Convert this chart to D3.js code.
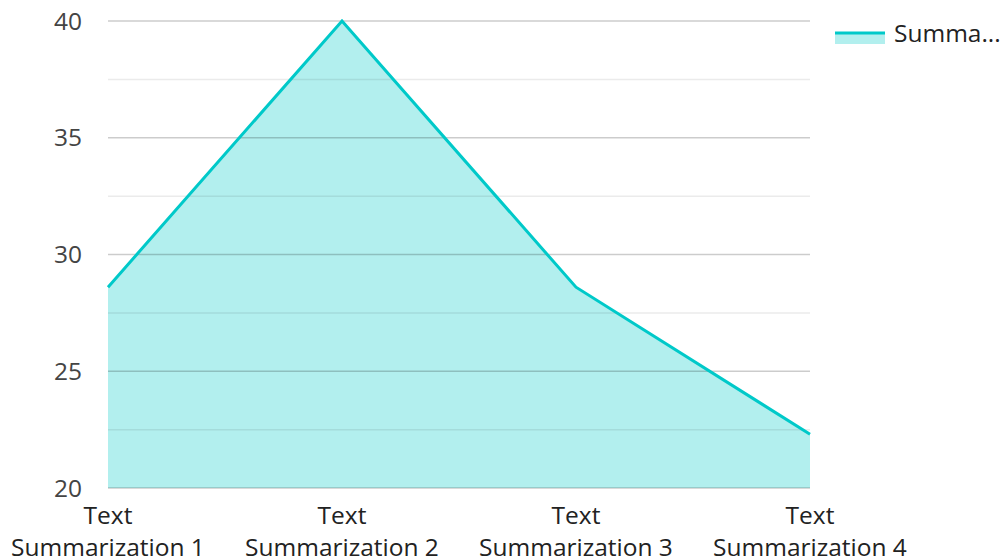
<!DOCTYPE html>
<html>
<head>
<meta charset="utf-8">
<script src="https://cdn.jsdelivr.net/npm/d3@7"></script>
<style>
  html, body { margin: 0; padding: 0; background: #fff; }
  svg text { font-family: "Open Sans", "Noto Sans", sans-serif; }
</style>
</head>
<body>
<svg id="chart" width="1005" height="560"></svg>
<script>
// Chart data
const categories = ["Text Summarization 1", "Text Summarization 2", "Text Summarization 3", "Text Summarization 4"];
const values = [28.6, 40, 28.6, 22.3];
const seriesName = "Summarization";
const yTicks = [20, 25, 30, 35, 40];
const yMinorTicks = [22.5, 27.5, 32.5, 37.5];

const svg = d3.select("#chart");
const plotLeft = 108, plotRight = 810, plotTop = 21, plotBottom = 488;
const fontSize = 24.5;

const x = d3.scalePoint().domain(categories).range([plotLeft, plotRight]);
const y = d3.scaleLinear().domain([20, 40]).range([plotBottom, plotTop]);

const lineColor = "#00c9c9";
const fillColor = "#b2efee";

// Area fill
const area = d3.area()
  .x((d, i) => x(categories[i]))
  .y0(y(20))
  .y1(d => y(d));
svg.append("path")
  .datum(values)
  .attr("d", area)
  .attr("fill", fillColor);

// Gridlines (drawn translucent over the fill)
svg.append("g").selectAll("line").data(yMinorTicks).join("line")
  .attr("x1", plotLeft).attr("x2", plotRight)
  .attr("y1", d => y(d)).attr("y2", d => y(d))
  .attr("stroke", "#000").attr("stroke-opacity", 0.08).attr("stroke-width", 1.5);
svg.append("g").selectAll("line").data(yTicks).join("line")
  .attr("x1", plotLeft).attr("x2", plotRight)
  .attr("y1", d => y(d)).attr("y2", d => y(d))
  .attr("stroke", "#000").attr("stroke-opacity", 0.2).attr("stroke-width", 1.5);

// Series line
const line = d3.line()
  .x((d, i) => x(categories[i]))
  .y(d => y(d));
svg.append("path")
  .datum(values)
  .attr("d", line)
  .attr("fill", "none")
  .attr("stroke", lineColor)
  .attr("stroke-width", 3)
  .attr("stroke-linejoin", "miter");

// Y axis labels
svg.append("g").selectAll("text").data(yTicks).join("text")
  .attr("x", 82)
  .attr("y", d => y(d))
  .attr("dy", "0.35em")
  .attr("text-anchor", "end")
  .attr("font-size", fontSize)
  .attr("fill", "#444")
  .text(d => d);

// X axis labels (two lines)
const xl = svg.append("g").selectAll("text").data(categories).join("text")
  .attr("text-anchor", "middle")
  .attr("font-size", fontSize)
  .attr("fill", "#222");
xl.each(function(d) {
  const parts = d.split(" ");
  const first = parts[0];
  const rest = parts.slice(1).join(" ");
  const t = d3.select(this);
  t.append("tspan").attr("x", x(d)).attr("y", 524).text(first);
  t.append("tspan").attr("x", x(d)).attr("y", 556).text(rest);
});

// Legend
const lg = svg.append("g");
lg.append("rect").attr("x", 835).attr("y", 33).attr("width", 50).attr("height", 11).attr("fill", fillColor);
lg.append("line").attr("x1", 835).attr("x2", 885).attr("y1", 33).attr("y2", 33)
  .attr("stroke", lineColor).attr("stroke-width", 3);
lg.append("text").attr("x", 894).attr("y", 42)
  .attr("font-size", fontSize).attr("fill", "#222")
  .text("Summa...");
</script>
</body>
</html>
